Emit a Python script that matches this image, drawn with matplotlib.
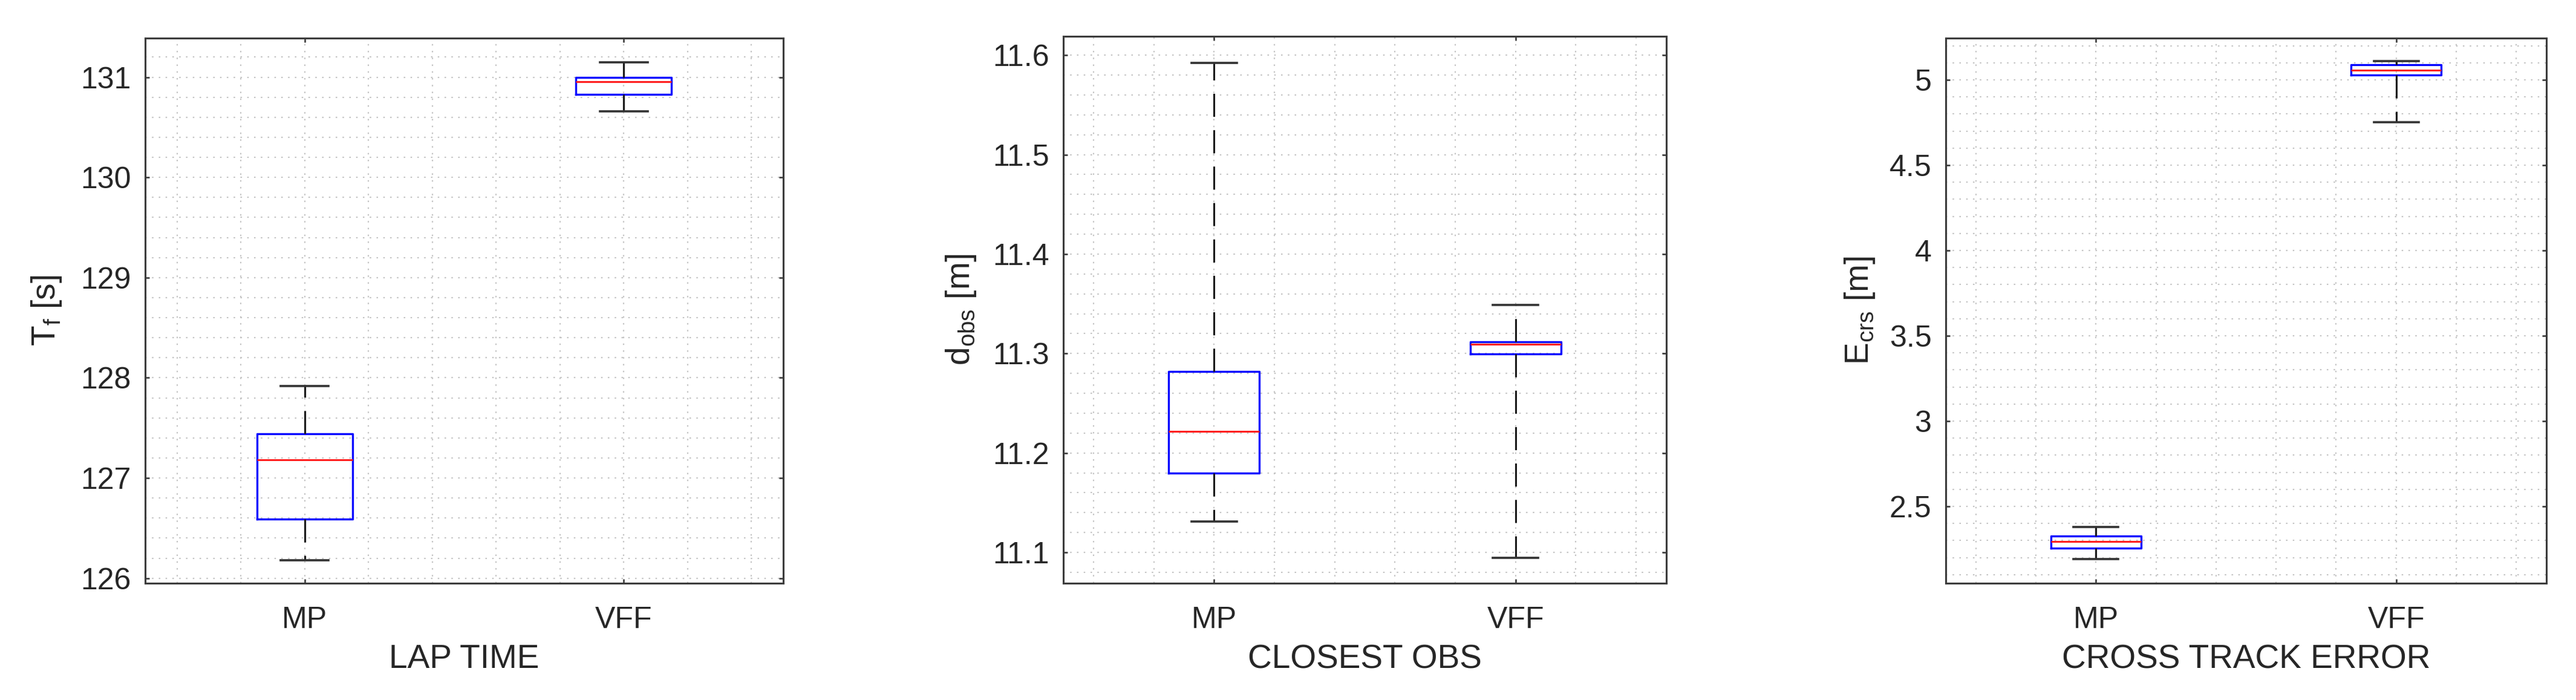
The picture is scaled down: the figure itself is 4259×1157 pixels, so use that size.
#!/usr/bin/env python3
"""Box plots comparing MP and VFF: lap time, closest obstacle, cross track error."""

import matplotlib
matplotlib.use('Agg')
import matplotlib.pyplot as plt
from matplotlib.ticker import MultipleLocator

plt.rcParams['font.family'] = ['Liberation Sans', 'DejaVu Sans']

# categories
methods = ['MP', 'VFF']

# box stats per method: [lower whisker, q1, median, q3, upper whisker]
lap_mp = [126.18, 126.59, 127.18, 127.44, 127.92]
lap_vff = [130.66, 130.83, 130.955, 130.995, 131.15]
obs_mp = [11.131, 11.180, 11.222, 11.282, 11.592]
obs_vff = [11.0944, 11.2998, 11.3093, 11.3118, 11.3487]
crs_mp = [2.191, 2.254, 2.293, 2.327, 2.380]
crs_vff = [4.752, 5.029, 5.058, 5.089, 5.110]

# axis texts and ticks
x_titles = ['LAP TIME', 'CLOSEST OBS', 'CROSS TRACK ERROR']
y_titles = [r'T$_\mathregular{f}$ [s]', r'd$_\mathregular{obs}$ [m]',
            r'E$_\mathregular{crs}$ [m]']
lap_ticks = [126, 127, 128, 129, 130, 131]
lap_labels = ['126', '127', '128', '129', '130', '131']
obs_ticks = [11.1, 11.2, 11.3, 11.4, 11.5, 11.6]
obs_labels = ['11.1', '11.2', '11.3', '11.4', '11.5', '11.6']
crs_ticks = [2.5, 3.0, 3.5, 4.0, 4.5, 5.0]
crs_labels = ['2.5', '3', '3.5', '4', '4.5', '5']

W, H = 4259, 1157
TEXT = '#262626'
GRID = dict(color='#c4c4c4', linestyle=(0, (1.2, 4.2)), linewidth=1.5)


def make_stats(values):
    lo, q1, med, q3, hi = values
    return dict(whislo=lo, q1=q1, med=med, q3=q3, whishi=hi, fliers=[])


def add_panel(fig, px, series, ticks, labels, ylim, minor, xtitle, ytitle, ylab_x):
    x0, x1, y0, y1 = px
    ax = fig.add_axes([x0 / W, (H - y1) / H, (x1 - x0) / W, (y1 - y0) / H])

    stats = [make_stats(v) for v in series]
    ax.bxp(stats, positions=[1, 2], widths=0.3, capwidths=0.15,
           showfliers=False,
           boxprops=dict(color='#0000ff', linewidth=2.4),
           medianprops=dict(color='#ff2020', linewidth=2.2),
           whiskerprops=dict(color='#1a1a1a', linewidth=2.2,
                             linestyle=(0, (12.5, 7.2))),
           capprops=dict(color='#333333', linewidth=2.6))

    ax.set_xlim(0.5, 2.5)
    ax.set_ylim(*ylim)
    ax.set_xticks([1, 2])
    ax.set_xticklabels(methods)
    ax.set_yticks(ticks)
    ax.set_yticklabels(labels)
    ax.xaxis.set_minor_locator(MultipleLocator(0.2))
    ax.yaxis.set_minor_locator(MultipleLocator(minor))

    ax.set_axisbelow(True)
    ax.grid(True, which='both', **GRID)

    ax.tick_params(which='major', direction='in', length=5, width=1.8,
                   top=True, right=True, colors='#333333',
                   labelcolor=TEXT, labelsize=36)
    ax.tick_params(axis='x', which='major', pad=27)
    ax.tick_params(axis='y', which='major', pad=17)
    ax.tick_params(which='minor', length=0)

    for sp in ax.spines.values():
        sp.set_color('#3c3c3c')
        sp.set_linewidth(2.2)

    ax.set_xlabel(xtitle, fontsize=39.6, color=TEXT, labelpad=12)
    ax.set_ylabel(ytitle, fontsize=39.6, color=TEXT)
    ax.yaxis.set_label_coords(ylab_x, 0.5)
    return ax


def main():
    fig = plt.figure(figsize=(W / 100, H / 100), dpi=100)

    add_panel(fig, (240, 1295, 63, 964), [lap_mp, lap_vff],
              lap_ticks, lap_labels, (125.95, 131.39), 0.2,
              x_titles[0], y_titles[0], -0.128)
    add_panel(fig, (1758, 2755, 60, 964), [obs_mp, obs_vff],
              obs_ticks, obs_labels, (11.069, 11.619), 0.02,
              x_titles[1], y_titles[1], -0.141)
    add_panel(fig, (3217, 4210, 63, 964), [crs_mp, crs_vff],
              crs_ticks, crs_labels, (2.05, 5.245), 0.1,
              x_titles[2], y_titles[2], -0.115)

    fig.savefig('out.png', dpi=100, facecolor='white')
    plt.close(fig)


if __name__ == '__main__':
    main()
